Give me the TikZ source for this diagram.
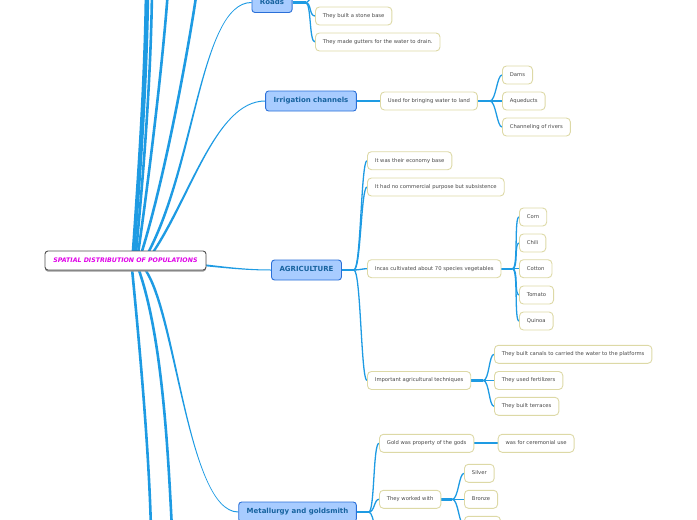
\documentclass[tikz,border=0pt]{standalone}
\usepackage{fontspec}
\setmainfont{DejaVu Sans}
\usetikzlibrary{calc}
\definecolor{conn}{HTML}{1E9BE3}
\definecolor{lvfill}{HTML}{A8CCFF}
\definecolor{lvdraw}{HTML}{2A6FD8}
\definecolor{lvtext}{HTML}{17639F}
\definecolor{leafdraw}{HTML}{DDD9A6}
\definecolor{leaftext}{HTML}{484848}
\definecolor{roottext}{HTML}{E000E8}
\definecolor{rootdraw}{HTML}{505050}
\pgfdeclarelayer{bg}
\pgfsetlayers{bg,main}
% tapered connector: start, c1, c2, end, half width at start (horizontal), half width at end (vertical), direction sign
\newcommand\taper[7]{%
  \fill[conn] ($#1+(-#5,0)$) .. controls ($#2+(-#5,0)$) and ($#3+(0,{-(#7)*#6})$) .. ($#4+(0,{-(#7)*#6})$)
    -- ($#4+(0,{(#7)*#6})$) .. controls ($#3+(0,{(#7)*#6})$) and ($#2+(#5,0)$) .. ($#1+(#5,0)$) -- cycle;}
\begin{document}
\begin{tikzpicture}[x=1pt,y=-1pt,
  leaf/.style={draw=leafdraw, line width=0.9pt, fill=white, rounded corners=4pt,
    font=\fontsize{5.25}{6}\selectfont, text=leaftext, minimum height=18pt,
    inner xsep=7.5pt, inner ysep=0pt, text height=3.9pt, text depth=1.2pt, anchor=west},
  topic/.style={draw=lvdraw, line width=0.9pt, fill=lvfill, rounded corners=3pt,
    font=\fontsize{7}{8}\selectfont\bfseries, text=lvtext, minimum height=20pt,
    inner xsep=8pt, inner ysep=0pt, text height=5.2pt, text depth=1.5pt},
  rootbox/.style={draw=rootdraw, line width=0.9pt, fill=white, rounded corners=3pt,
    font=\fontsize{6.25}{7}\selectfont\bfseries\itshape, text=roottext,
    minimum width=161pt, minimum height=19pt, inner sep=0pt,
    text height=4.6pt, text depth=1.2pt,
    preaction={fill=black!40, transform canvas={yshift=-1.6pt}}},
  stub/.style={conn, line width=2.4pt},
  sub/.style={conn, line width=1.3pt},
  far/.style={conn, line width=2.6pt},
]
\useasboundingbox (0,0) rectangle (697,520);
\clip (0,0) rectangle (697,520);

% ---- nodes ----
\node[rootbox] (root) at (125.5,260.5) {SPATIAL DISTRIBUTION OF POPULATIONS};
\node[topic] (roads) at (272,2.5) {Roads};
\node[topic] (irr) at (311,101) {Irrigation channels};
\node[topic] (agri) at (306.5,270) {AGRICULTURE};
\node[topic] (metal) at (297.5,512) {Metallurgy and goldsmith};

\node[leaf] (stone) at (315,16) {They built a stone base};
\node[leaf] (gutters) at (315,42) {They made gutters for the water to drain.};

\node[leaf] (used) at (380,101) {Used for bringing water to land};
\node[leaf] (dams) at (502,75) {Dams};
\node[leaf] (aque) at (502,101) {Aqueducts};
\node[leaf] (chan) at (502,127) {Channeling of rivers};

\node[leaf] (econ) at (367,160.7) {It was their economy base};
\node[leaf] (comm) at (367,187) {It had no commercial purpose but subsistence};
\node[leaf] (incas) at (367,268.7) {Incas cultivated about 70 species vegetables};
\node[leaf] (corn) at (519,217) {Corn};
\node[leaf] (chili) at (519,243) {Chili};
\node[leaf] (cotton) at (519,268.7) {Cotton};
\node[leaf] (tomato) at (519,295) {Tomato};
\node[leaf] (quinoa) at (519,321) {Quinoa};
\node[leaf] (tech) at (367,380.5) {Important agricultural techniques};
\node[leaf] (canals) at (494,354.3) {They built canals to carried the water to the platforms};
\node[leaf] (fert) at (494,380.5) {They used fertilizers};
\node[leaf] (terr) at (494,406.3) {They built terraces};

\node[leaf] (gold) at (379,443.3) {Gold was property of the gods};
\node[leaf] (cere) at (497.7,443.3) {was for ceremonial use};
\node[leaf] (worked) at (379,499.3) {They worked with};
\node[leaf] (silver) at (464,473.3) {Silver};
\node[leaf] (bronze) at (464,499.3) {Bronze};
\node[leaf, minimum width=36pt] (third) at (464,525.3) {};

% ---- free ends off the page ----
\coordinate (u1) at (146,-10);
\coordinate (u2) at (148,-10);
\coordinate (u3) at (152,-10);
\coordinate (u4) at (168,-10);
\coordinate (u5) at (197,-10);
\coordinate (d1) at (151,530);
\coordinate (d2) at (172,530);
\coordinate (r0) at (317,-12);
\coordinate (m3) at (381,545);

% ---- connectors ----
\begin{pgfonlayer}{bg}
\clip (0,0) rectangle (697,520);
\coordinate (s1) at ($(root.center)+(7,-3)$);
\coordinate (s2) at ($(root.center)+(8,-3)$);
\coordinate (s3) at ($(root.center)+(10,-3)$);
\coordinate (s4) at ($(root.center)+(12,-3)$);
\coordinate (s5) at ($(root.center)+(14.5,-3)$);
\coordinate (sR) at ($(root.center)+(20,-3)$);
\coordinate (sI) at ($(root.center)+(24,-3)$);
\coordinate (sD1) at ($(root.center)+(6,3)$);
\coordinate (sD2) at ($(root.center)+(11,3)$);
\coordinate (sM) at ($(root.center)+(14,3)$);
\coordinate (sA) at ($(root.center)+(40,2)$);

\draw[far] (s1) .. controls (138,180) and (145,80) .. (u1);
\draw[far] (s2) .. controls (140,180) and (147,80) .. (u2);
\draw[far] (s3) .. controls (143,180) and (151,80) .. (u3);
\draw[far] (s4) .. controls (150,170) and (163,60) .. (u4);
\draw[far] (s5) .. controls (165,180) and (190,40) .. (u5);
\draw[far] (sD1) .. controls (140,350) and (149,450) .. (d1);
\draw[far] (sD2) .. controls (162,330) and (168,450) .. (d2);

\taper{(sR)}{(195,170)}{(200,2.5)}{(roads.west)}{1.4}{0.5}{1}
\taper{(sI)}{(190,200)}{(215,101)}{(irr.west)}{1.4}{0.5}{1}
\taper{(sM)}{(175,290)}{(185,512)}{(metal.west)}{1.4}{0.5}{-1}
\fill[conn] ($(sA)+(0,-1.2)$) .. controls ($(200,263)+(0,-1.2)$) and ($(230,270)+(0,-0.5)$) .. ($(agri.west)+(0,-0.5)$)
  -- ($(agri.west)+(0,0.5)$) .. controls ($(230,270)+(0,0.5)$) and ($(200,263)+(0,1.2)$) .. ($(sA)+(0,1.2)$) -- cycle;

% Roads
\coordinate (rb) at ($(roads.east)+(13,0)$);
\draw[stub] (roads.east) -- (rb);
\draw[sub] (rb) .. controls +(6,0) and +(-6,0) .. (r0);
\draw[sub] (rb) .. controls +(6,0) and +(-6,0) .. (stone.west);
\draw[sub] (rb) .. controls +(6,0) and +(-6,0) .. (gutters.west);

% Irrigation
\draw[conn, line width=1.8pt] (irr.east) -- (used.west);
\coordinate (ub) at ($(used.east)+(12,0)$);
\draw[stub] (used.east) -- (ub);
\draw[sub] (ub) .. controls +(6,0) and +(-5,0) .. (dams.west);
\draw[sub] (ub) -- (aque.west);
\draw[sub] (ub) .. controls +(6,0) and +(-5,0) .. (chan.west);

% Agriculture
\coordinate (ab) at ($(agri.east)+(12,0)$);
\draw[stub] (agri.east) -- (ab);
\draw[sub] (ab) .. controls +(7,0) and +(-6,0) .. (econ.west);
\draw[sub] (ab) .. controls +(7,0) and +(-6,0) .. (comm.west);
\draw[sub] (ab) .. controls +(6,0) and +(-5,0) .. (incas.west);
\draw[sub] (ab) .. controls +(7,0) and +(-6,0) .. (tech.west);

\coordinate (ib) at ($(incas.east)+(11,0)$);
\draw[stub] (incas.east) -- (ib);
\draw[sub] (ib) .. controls +(6,0) and +(-5,0) .. (corn.west);
\draw[sub] (ib) .. controls +(6,0) and +(-5,0) .. (chili.west);
\draw[sub] (ib) -- (cotton.west);
\draw[sub] (ib) .. controls +(6,0) and +(-5,0) .. (tomato.west);
\draw[sub] (ib) .. controls +(6,0) and +(-5,0) .. (quinoa.west);

\coordinate (tb) at ($(tech.east)+(12,0)$);
\draw[stub] (tech.east) -- (tb);
\draw[sub] (tb) .. controls +(6,0) and +(-5,0) .. (canals.west);
\draw[sub] (tb) -- (fert.west);
\draw[sub] (tb) .. controls +(6,0) and +(-5,0) .. (terr.west);

% Metallurgy
\coordinate (mb) at ($(metal.east)+(12,0)$);
\draw[stub] (metal.east) -- (mb);
\draw[sub] (mb) .. controls +(6,0) and +(-6,0) .. (gold.west);
\draw[sub] (mb) .. controls +(6,0) and +(-5,0) .. (worked.west);
\draw[sub] (mb) .. controls +(6,0) and +(-6,0) .. (m3);
\draw[conn, line width=1.8pt] (gold.east) -- (cere.west);

\coordinate (wb) at ($(worked.east)+(11,0)$);
\draw[stub] (worked.east) -- (wb);
\draw[sub] (wb) .. controls +(6,0) and +(-5,0) .. (silver.west);
\draw[sub] (wb) -- (bronze.west);
\draw[sub] (wb) .. controls +(6,0) and +(-5,0) .. (third.west);
\end{pgfonlayer}
\end{tikzpicture}
\end{document}
